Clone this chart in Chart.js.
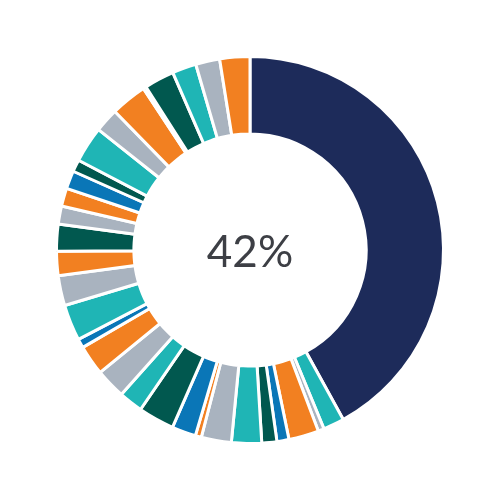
<!DOCTYPE html>
<html><head><meta charset="utf-8">
<script src="https://cdn.jsdelivr.net/npm/chart.js@4"></script>
<style>body{margin:0;background:#fff}#wrap{width:500px;height:500px;position:relative}
#lbl{position:absolute;left:0;top:0;width:500px;height:500px;display:flex;align-items:center;justify-content:center;font:44px Lato,"Open Sans",sans-serif;color:#3d3f45;pointer-events:none}</style>
</head><body>
<div id="wrap"><canvas id="c" width="500" height="500"></canvas><div id="lbl">42%</div></div>
<script>
const NAVY='#1d2b5a',TEAL='#1fb5b5',GRAY='#a9b3bf',ORANGE='#f28021',BLUE='#0a76b7',DKGREEN='#01584f';
// small slices clockwise after the big one (relative sizes)
const smallValues=[3.5,1,5,2,2.5,5,5,1,4,6,4,5,5,1.5,6,5,4,4.5,3,3,3,2,6,4,6,0.5,5,4,4,5];
const smallColors=[TEAL,GRAY,ORANGE,BLUE,DKGREEN,TEAL,GRAY,ORANGE,BLUE,DKGREEN,TEAL,GRAY,ORANGE,BLUE,TEAL,GRAY,ORANGE,DKGREEN,GRAY,ORANGE,BLUE,DKGREEN,TEAL,GRAY,ORANGE,TEAL,DKGREEN,TEAL,GRAY,ORANGE];
const bigShare=42;
const smallSum=smallValues.reduce((a,b)=>a+b,0);
const bigValue=smallSum*bigShare/(100-bigShare);
new Chart(document.getElementById('c').getContext('2d'),{
  type:'doughnut',
  data:{labels:['main',...smallValues.map((_,i)=>'s'+(i+1))],
    datasets:[{data:[bigValue,...smallValues],backgroundColor:[NAVY,...smallColors],borderColor:'#fff',borderWidth:3}]},
  options:{responsive:false,animation:false,cutout:'60%',layout:{padding:55},
    plugins:{legend:{display:false},tooltip:{enabled:false}}}
});
</script></body></html>
